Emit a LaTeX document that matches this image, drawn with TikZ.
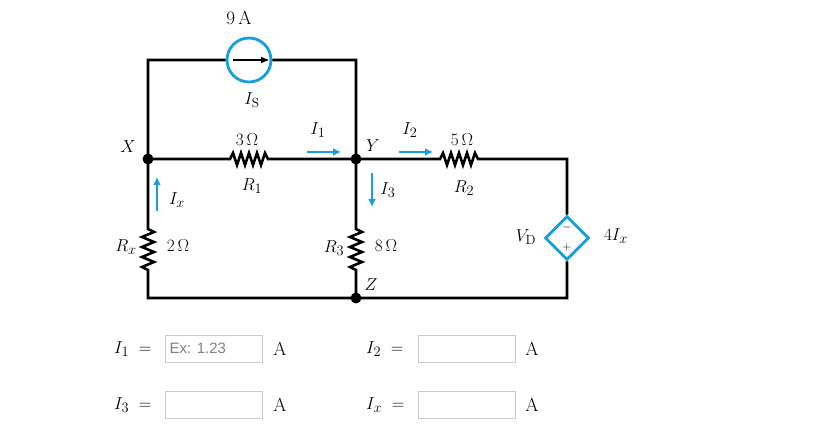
\documentclass[tikz,border=0pt]{standalone}
\usepackage{fontspec}
\setsansfont{Liberation Sans}
\usetikzlibrary{arrows.meta,shapes.geometric}
\definecolor{cblue}{RGB}{20,160,220}
\begin{document}
\begin{tikzpicture}[x=1pt,y=-1pt,
  wire/.style={line width=2.6pt,line join=miter},
  bl/.style={draw=cblue,line width=2.8pt},
  barrow/.style={draw=cblue,line width=2.4pt,-{Latex[length=8pt,width=8pt]}},
  lbl/.style={font=\fontsize{19}{22}\selectfont,inner sep=0pt},
  dot/.style={circle,fill=black,inner sep=0pt,minimum size=11pt},
  ansbox/.style={draw=gray!40,line width=0.8pt,minimum width=97pt,minimum height=27pt,inner sep=0pt}]
\useasboundingbox (0,0) rectangle (839,435);
\fill[white] (0,0) rectangle (839,435);
\coordinate (X) at (148,159); \coordinate (Y) at (356,159); \coordinate (Z) at (356,298);
\coordinate (BL) at (148,298); \coordinate (BR) at (567,298); \coordinate (MR) at (567,159);
\node[circle,bl,minimum size=44pt,inner sep=0pt] (S) at (249,60) {};
\draw[-{Latex[length=9pt,width=7pt]},line width=2pt] (233,60) -- (270,60);
\node[diamond,bl,minimum size=44pt,inner sep=0pt] (D) at (567,238) {};
\node[font=\sffamily\fontsize{13}{13}\selectfont] at (567,228) {$-$};
\node[font=\sffamily\fontsize{13}{13}\selectfont] at (567,248) {$+$};
% wires
\draw[wire] (S.west) -| (X) -- (230,159) -- (233,153) -- (237,165) -- (241,153) -- (245,165) -- (249,153) -- (253,165) -- (257,153) -- (261,165) -- (265,153) -- (268,159) -- (Y);
\draw[wire] (S.east) -| (Y) -- (440,159) -- (443,153) -- (447,165) -- (451,153) -- (455,165) -- (459,153) -- (463,165) -- (467,153) -- (471,165) -- (475,153) -- (478,159) -- (MR) -- (D.north);
\draw[wire] (D.south) -- (BR) -- (Z) -- (BL) -- (148,270) -- (142,267) -- (154,262) -- (142,257) -- (154,252) -- (142,247) -- (154,242) -- (142,237) -- (154,232) -- (148,229) -- (X);
\draw[wire] (Z) -- (356,270) -- (350,267) -- (362,262) -- (350,257) -- (362,252) -- (350,247) -- (362,242) -- (350,237) -- (362,232) -- (356,229) -- (Y);
\node[dot] (nX) at (X) {}; \node[dot] (nY) at (Y) {}; \node[dot] (nZ) at (Z) {};
% labels
\node[lbl] at (239,18) {9\,A};
\node[lbl] at (252,100) {$I_{\mathrm{S}}$};
\node[lbl] at (247,140) {$3\,\Omega$};
\node[lbl] at (252,186) {$R_1$};
\node[lbl] at (318,130) {$I_1$};
\draw[barrow] (307,152) -- (341,152);
\node[lbl] at (373,146) {$Y$};
\node[lbl] at (410,130) {$I_2$};
\draw[barrow] (399,152) -- (433,152);
\node[lbl] at (462,140) {$5\,\Omega$};
\node[lbl] at (464,188) {$R_2$};
\draw[barrow] (372,173) -- (372,207);
\node[lbl] at (388,190) {$I_3$};
\draw[barrow] (157,211) -- (157,177);
\node[lbl] at (177,200) {$I_x$};
\node[lbl] at (128,147) {$X$};
\node[lbl] at (126,247) {$R_x$};
\node[lbl] at (178,246) {$2\,\Omega$};
\node[lbl] at (334,248) {$R_3$};
\node[lbl] at (386,246) {$8\,\Omega$};
\node[lbl] at (371,285) {$Z$};
\node[lbl] at (526,237) {$V_{\mathrm{D}}$};
\node[lbl] at (616,236) {$4I_x$};
% answers
\node[lbl,anchor=west] at (114,349) {$I_1\;=$};
\node[ansbox] (b1) at (214,349) {};
\node[font=\sffamily\fontsize{15}{17}\selectfont,text=gray,anchor=west] at (166,348) {Ex: 1.23};
\node[lbl] at (280,349) {A};
\node[lbl,anchor=west] at (366,349) {$I_2\;=$};
\node[ansbox] (b2) at (467,349) {};
\node[lbl] at (532,349) {A};
\node[lbl,anchor=west] at (114,405) {$I_3\;=$};
\node[ansbox] (b3) at (214,405) {};
\node[lbl] at (280,405) {A};
\node[lbl,anchor=west] at (366,405) {$I_x\;=$};
\node[ansbox] (b4) at (467,405) {};
\node[lbl] at (532,405) {A};
\end{tikzpicture}
\end{document}
